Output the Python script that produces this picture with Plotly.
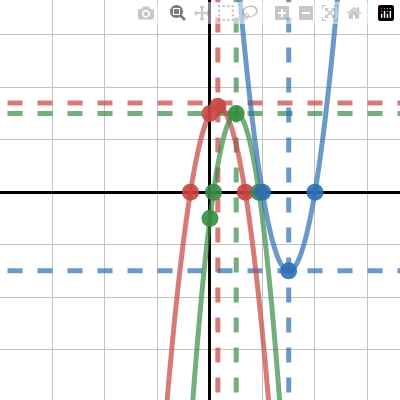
import numpy as np
import plotly.graph_objects as go

# quadratic coefficients a, b, c  (y = a x^2 + b x + c)
red_coef = [-6.0, 1.8, 1.5]
green_coef = [-8.0, 8.0, -0.5]
blue_coef = [6.0, -18.0, 12.0]

red_pts_x = [-0.372, 0.672, 0.15, 0.0]
red_pts_y = [0.0, 0.0, 1.635, 1.5]
green_pts_x = [0.067, 0.933, 0.5, 0.0]
green_pts_y = [0.0, 0.0, 1.5, -0.5]
blue_pts_x = [1.0, 2.0, 1.5]
blue_pts_y = [0.0, 0.0, -1.5]

red_vx, red_hy = 0.15, 1.7
green_vx, green_hy = 0.5, 1.5
blue_vx, blue_hy = 1.5, -1.5

RED, GREEN, BLUE = "#c74440", "#388c46", "#2d70b3"
XR = [-4.0, 3.62]
YR = [-3.96, 3.66]

fig = go.Figure()
xs = np.linspace(XR[0], XR[1], 1500)
for col, coef, vx, hy in [(RED, red_coef, red_vx, red_hy),
                          (GREEN, green_coef, green_vx, green_hy),
                          (BLUE, blue_coef, blue_vx, blue_hy)]:
    fig.add_trace(go.Scatter(x=[vx, vx], y=[YR[0] - 1, YR[1] + 1], mode="lines",
                             line=dict(color=col, width=5, dash="dash"), opacity=0.7))
    fig.add_trace(go.Scatter(x=[XR[0] - 1, XR[1] + 1], y=[hy, hy], mode="lines",
                             line=dict(color=col, width=5, dash="dash"), opacity=0.7))
for col, coef in [(RED, red_coef), (GREEN, green_coef), (BLUE, blue_coef)]:
    a, b, c = coef
    ys = a * xs**2 + b * xs + c
    m = (ys > YR[0] - 2) & (ys < YR[1] + 2)
    fig.add_trace(go.Scatter(x=xs[m], y=ys[m], mode="lines",
                             line=dict(color=col, width=5, simplify=False, shape="spline"),
                             opacity=0.7))
for col, px, py in [(RED, red_pts_x, red_pts_y), (GREEN, green_pts_x, green_pts_y),
                    (BLUE, blue_pts_x, blue_pts_y)]:
    fig.add_trace(go.Scatter(x=px, y=py, mode="markers",
                             marker=dict(color=col, size=17), opacity=0.9))

axis = dict(showticklabels=False, showgrid=True, gridcolor="#c4c4c4", gridwidth=1,
            dtick=1, zeroline=True, zerolinecolor="black", zerolinewidth=2.5)
fig.update_layout(width=400, height=400, margin=dict(l=0, r=0, t=0, b=0),
                  plot_bgcolor="white", paper_bgcolor="white", showlegend=False,
                  xaxis=dict(range=XR, **axis), yaxis=dict(range=YR, **axis))
fig.write_html("out.html", post_script="document.body.style.margin='0';")
